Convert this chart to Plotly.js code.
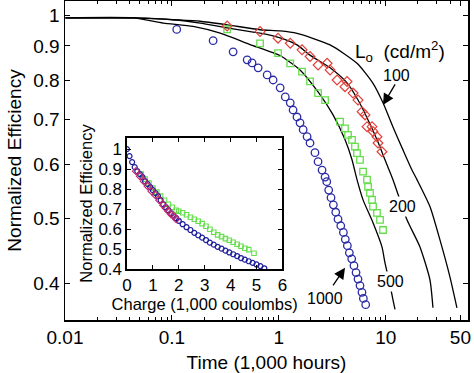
<!DOCTYPE html>
<html><head><meta charset="utf-8">
<script src="https://cdn.plot.ly/plotly-3.0.1.min.js"></script>
<style>html,body{margin:0;padding:0;background:#fff}#chart{width:474px;height:373px}</style>
</head><body><div id="chart"></div>
<script>
// ---- Main panel: normalized efficiency vs time (1,000 hours) ----
// black curves (measured decay), L0 = 500, 200, 100 cd/m2
var curve500T = [0.0101, 0.0435, 0.0829, 0.158, 0.283, 0.539, 1.03, 1.58, 2.33, 3.22, 4.17, 4.84, 5.39, 6.14, 7.61, 9.23, 9.85, 10.97, 11.7, 12.22];
var curve500E = [0.990, 0.990, 0.973, 0.962, 0.940, 0.904, 0.870, 0.829, 0.769, 0.711, 0.653, 0.610, 0.570, 0.532, 0.492, 0.453, 0.429, 0.398, 0.378, 0.366];
var curve200T = [0.0101, 0.0435, 0.103, 0.184, 0.329, 0.669, 1.03, 1.48, 1.96, 3.02, 4.35, 5.51, 6.69, 8.47, 9.85, 11.7, 15.82, 20.92, 25.94, 27.68];
var curve200E = [0.990, 0.990, 0.984, 0.973, 0.957, 0.940, 0.925, 0.903, 0.872, 0.835, 0.793, 0.748, 0.704, 0.648, 0.610, 0.570, 0.497, 0.453, 0.405, 0.368];
var curve100T = [0.0101, 0.0435, 0.103, 0.184, 0.329, 0.669, 1.03, 1.48, 3.02, 5.39, 7.61, 9.44, 11.7, 14.51, 17.62, 19.62, 25.94, 32.18, 39.9, 46.38];
var curve100E = [0.990, 0.990, 0.984, 0.979, 0.967, 0.951, 0.947, 0.939, 0.903, 0.848, 0.792, 0.741, 0.682, 0.631, 0.589, 0.570, 0.520, 0.464, 0.409, 0.368];

// blue circles, L0 = 1000
var circ1000T = [0.111, 0.243, 0.374, 0.506, 0.562, 0.641, 0.778, 0.885, 1.03, 1.15, 1.28, 1.36, 1.48, 1.58, 1.69, 1.84, 1.96, 2.18, 2.33, 2.54, 2.71,
                 2.81, 2.93, 3.08, 3.24, 3.41, 3.58, 3.80, 4.02, 4.19, 4.38, 4.57, 4.81, 5.05, 5.28, 5.51, 5.75, 6.00, 6.18, 6.50];
var circ1000E = [0.952, 0.916, 0.882, 0.858, 0.849, 0.835, 0.815, 0.801, 0.780, 0.756, 0.741, 0.723, 0.706, 0.692, 0.676, 0.660, 0.646, 0.625, 0.606, 0.589, 0.575,
                 0.566, 0.550, 0.536, 0.523, 0.510, 0.498, 0.487, 0.476, 0.465, 0.455, 0.444, 0.435, 0.425, 0.415, 0.406, 0.397, 0.388, 0.380, 0.372];
// green squares, L0 = 500
var sq500T = [0.329, 0.668, 0.984, 1.28, 1.65, 1.96, 2.33, 2.71, 3.74, 4.16, 4.44, 4.84, 5.16, 5.39, 5.75, 6.14, 6.69, 6.84, 7.13, 7.45, 7.61, 8.29, 8.85, 9.44];
var sq500E = [0.952, 0.908, 0.878, 0.848, 0.824, 0.797, 0.766, 0.748, 0.695, 0.679, 0.664, 0.653, 0.638, 0.624, 0.610, 0.586, 0.570, 0.556, 0.545, 0.532, 0.520, 0.509, 0.497, 0.480];
// red diamonds, L0 = 200
var dia200T = [0.329, 0.668, 0.984, 1.28, 1.65, 1.96, 2.33, 2.83, 3.02, 3.51, 4.16, 4.35, 4.95, 5.51, 6.01, 6.41, 6.69, 7.45, 7.61, 8.29, 8.47, 9.23];
var dia200E = [0.963, 0.945, 0.924, 0.908, 0.888, 0.868, 0.843, 0.848, 0.829, 0.801, 0.783, 0.797, 0.766, 0.748, 0.719, 0.711, 0.683, 0.683, 0.672, 0.660, 0.646, 0.627];

// ---- Inset: normalized efficiency vs charge (1,000 coulombs) ----
var insBlueQ = [0, 0.1, 0.2, 0.3, 0.4, 0.5, 0.6, 0.7, 0.8, 0.9, 1.0, 1.1, 1.2, 1.3, 1.4, 1.5, 1.6, 1.7, 1.8, 1.9, 2.0, 2.15, 2.3, 2.45, 2.6, 2.75, 2.9, 3.05, 3.2, 3.35, 3.5, 3.65, 3.8, 3.95, 4.1, 4.25, 4.4, 4.55, 4.7, 4.85, 5.0, 5.15, 5.3];
var insBlueE = [1.0, 0.965, 0.935, 0.91, 0.89, 0.875, 0.86, 0.84, 0.825, 0.81, 0.795, 0.78, 0.765, 0.745, 0.725, 0.71, 0.695, 0.68, 0.667, 0.655, 0.642, 0.625, 0.61, 0.596, 0.582, 0.57, 0.558, 0.546, 0.533, 0.523, 0.512, 0.503, 0.493, 0.484, 0.475, 0.466, 0.456, 0.448, 0.44, 0.432, 0.424, 0.416, 0.405];
var insGreenQ = [0.55, 0.7, 0.85, 1.0, 1.15, 1.3, 1.45, 1.6, 1.75, 1.9, 2.0, 2.15, 2.3, 2.45, 2.6, 2.75, 2.9, 3.05, 3.2, 3.35, 3.5, 3.65, 3.8, 3.95, 4.1, 4.25, 4.4, 4.55, 4.7, 4.9];
var insGreenE = [0.875, 0.85, 0.83, 0.805, 0.785, 0.765, 0.745, 0.725, 0.71, 0.695, 0.69, 0.682, 0.672, 0.66, 0.65, 0.64, 0.628, 0.615, 0.6, 0.585, 0.572, 0.563, 0.553, 0.545, 0.535, 0.525, 0.515, 0.505, 0.498, 0.48];
var insRedQ = [0.35, 0.5, 0.65, 0.8, 0.95, 1.1, 1.25, 1.4, 1.5, 1.6, 1.7, 1.8, 1.9];
var insRedE = [0.89, 0.865, 0.84, 0.815, 0.79, 0.77, 0.745, 0.72, 0.705, 0.69, 0.675, 0.665, 0.65];

// tick labels
var mainXTicks = [0.01, 0.1, 1, 10, 50];
var mainXTickText = ['0.01', '0.1', '1', '10', '50'];
var mainYTicks = [0.4, 0.5, 0.6, 0.7, 0.8, 0.9, 1];
var mainYTickText = ['0.4', '0.5', '0.6', '0.7', '0.8', '0.9', '1'];
var insXTicks = [0, 1, 2, 3, 4, 5, 6];
var insYTicks = [0.4, 0.5, 0.6, 0.7, 0.8, 0.9, 1];
var insYTickText = ['0.4', '0.5', '0.6', '0.7', '0.8', '0.9', '1'];

// minor log ticks
var minorX = [];
[0.01, 0.1, 1, 10].forEach(function (d) { for (var k = 2; k <= 9; k++) { var v = d * k; if (v < 58) minorX.push(v); } });

var FONT = 'Liberation Sans, Arial, Helvetica, sans-serif';
var blue = '#2b2ba6', green = '#66dd4c', red = '#e0403a';

var lineStyle = {color: '#000', width: 1.3, shape: 'spline', smoothing: 0.6};
var traces = [
  {x: curve500T, y: curve500E, mode: 'lines', line: lineStyle, xaxis: 'x', yaxis: 'y'},
  {x: curve200T, y: curve200E, mode: 'lines', line: lineStyle, xaxis: 'x', yaxis: 'y'},
  {x: curve100T, y: curve100E, mode: 'lines', line: lineStyle, xaxis: 'x', yaxis: 'y'},
  {x: circ1000T, y: circ1000E, mode: 'markers', marker: {symbol: 'circle-open', size: 7.5, color: blue, line: {width: 1.3}}, xaxis: 'x', yaxis: 'y'},
  {x: sq500T, y: sq500E, mode: 'markers', marker: {symbol: 'square-open', size: 6.5, color: green, line: {width: 1.3}}, xaxis: 'x', yaxis: 'y'},
  {x: dia200T, y: dia200E, mode: 'markers', marker: {symbol: 'diamond-open', size: 7.5, color: red, line: {width: 1.2}}, xaxis: 'x', yaxis: 'y'},
  {x: insGreenQ, y: insGreenE, mode: 'markers', marker: {symbol: 'square-open', size: 4.5, color: green, line: {width: 1.1}}, xaxis: 'x2', yaxis: 'y2'},
  {x: insBlueQ, y: insBlueE, mode: 'markers', marker: {symbol: 'circle-open', size: 5, color: '#1c1c9c', line: {width: 1.2}}, xaxis: 'x2', yaxis: 'y2'},
  {x: insRedQ, y: insRedE, mode: 'markers', marker: {symbol: 'diamond-open', size: 5.5, color: '#c02a70', line: {width: 1.1}}, xaxis: 'x2', yaxis: 'y2'}
];

var axCommon = {showgrid: false, zeroline: false, showline: true, linecolor: '#000', linewidth: 1.5, mirror: 'ticks',
  ticks: 'inside', tickcolor: '#000', tickwidth: 1, tickfont: {family: FONT, size: 19, color: '#000'}};

function lbl(x, y, text, size, bg) {
  var a = {xref: 'paper', yref: 'paper', x: x, y: y, xanchor: 'center', yanchor: 'middle', text: text, showarrow: false,
           font: {family: FONT, size: size, color: '#000'}};
  if (bg) { a.bgcolor = '#fff'; }
  return a;
}

var layout = {
  width: 474, height: 373,
  margin: {l: 65, r: 6, t: 1, b: 53},
  paper_bgcolor: '#fff', plot_bgcolor: '#fff',
  showlegend: false,
  font: {family: FONT, color: '#000'},
  xaxis: Object.assign({}, axCommon, {type: 'log', range: [-2, 1.77], domain: [0, 1], anchor: 'y',
    tickmode: 'array', tickvals: mainXTicks, ticktext: mainXTickText, ticklen: 5,
    minor: {tickmode: 'array', tickvals: minorX, ticklen: 3, ticks: 'inside', tickcolor: '#000', tickwidth: 1},
    title: {text: 'Time (1,000 hours)', font: {family: FONT, size: 19}, standoff: 13}}),
  yaxis: Object.assign({}, axCommon, {type: 'log', range: [Math.log10(0.353), Math.log10(1.049)], domain: [0, 1], anchor: 'x',
    tickmode: 'array', tickvals: mainYTicks, ticktext: mainYTickText, ticklen: 5,
    title: {text: 'Normalized Efficiency', font: {family: FONT, size: 19}, standoff: 6}}),
  xaxis2: Object.assign({}, axCommon, {range: [0, 6], domain: [0.1537, 0.5396], anchor: 'y2',
    tickmode: 'array', tickvals: insXTicks, ticklen: 4, tickfont: {family: FONT, size: 17, color: '#000'},
    title: {text: 'Charge (1,000 coulombs)', font: {family: FONT, size: 16.5}, standoff: 1}}),
  yaxis2: Object.assign({}, axCommon, {range: [0.4, 1.057], domain: [0.159, 0.5715], anchor: 'x2',
    tickmode: 'array', tickvals: insYTicks, ticktext: insYTickText, ticklen: 4, tickfont: {family: FONT, size: 17, color: '#000'},
    title: {text: 'Normalized Efficiency', font: {family: FONT, size: 16.5}, standoff: 1}}),
  annotations: [
    lbl(0.831, 0.843, 'L<sub>o</sub>  (cd/m<sup>2</sup>)', 19, false),
    lbl(0.822, 0.768, '100', 16, false),
    lbl(0.837, 0.357, '200', 16, true),
    lbl(0.807, 0.122, '500', 16, true),
    lbl(0.645, 0.066, '1000', 16, false),
    {xref: 'x', yref: 'y', x: 0.9748, y: -0.1333, text: '', showarrow: true, ax: 13, ay: -22, arrowhead: 2, arrowsize: 1.7, arrowwidth: 1.3, arrowcolor: '#000'},
    {xref: 'x', yref: 'y', x: 0.6196, y: -0.3748, text: '', showarrow: true, ax: -13, ay: 19, arrowhead: 2, arrowsize: 1.7, arrowwidth: 1.3, arrowcolor: '#000'}
  ]
};

Plotly.newPlot('chart', traces, layout, {staticPlot: true, displayModeBar: false});
</script></body></html>
